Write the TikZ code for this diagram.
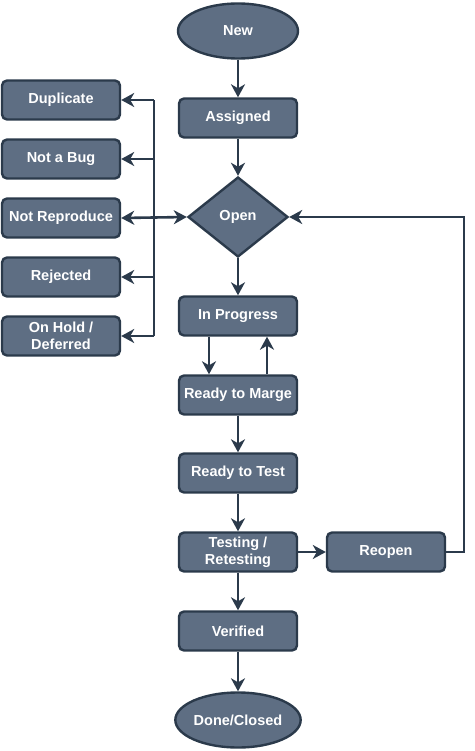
\documentclass[tikz,border=0pt]{standalone}
\usepackage{fontspec}
\setmainfont{Liberation Sans}
\usetikzlibrary{shapes.geometric,arrows.meta}
\definecolor{boxfill}{HTML}{5E6E83}
\definecolor{boxline}{HTML}{2B3A4B}
\tikzset{
  tip/.tip={Stealth[length=13pt,width=14pt,inset=4pt]},
  base/.style={draw=boxline, fill=boxfill, line width=2.4pt, text=white, font=\bfseries\fontsize{14.5}{17}\selectfont, align=center, inner sep=0pt},
  stepbox/.style={base, rectangle, rounded corners=5pt, minimum width=118pt, minimum height=39pt},
  term/.style={base, ellipse, minimum width=120pt, minimum height=55pt},
  decide/.style={base, diamond, minimum width=100pt, minimum height=80pt},
  conn/.style={draw=boxline, line width=2.6pt, -tip},
  plain/.style={draw=boxline, line width=2.6pt},
}
\begin{document}
\begin{tikzpicture}[x=1pt,y=-1pt]
\useasboundingbox (0,0) rectangle (474,751);
\node[term] (new) at (238,31) {New};
\node[stepbox] (assigned) at (238,118) {Assigned};
\node[decide] (open) at (238,217) {Open};
\node[stepbox] (prog) at (238,316) {In Progress};
\node[stepbox] (marge) at (238,395) {Ready to Marge};
\node[stepbox] (rtest) at (238,473) {Ready to Test};
\node[stepbox] (testing) at (238,552) {Testing /\\Retesting};
\node[stepbox] (reopen) at (386,552) {Reopen};
\node[stepbox] (verified) at (238,631) {Verified};
\node[term] (done) at (238,720) {Done/Closed};
\node[stepbox] (dup) at (61,100) {Duplicate};
\node[stepbox] (nab) at (61,159) {Not a Bug};
\node[stepbox] (nrep) at (61,218) {Not Reproduce};
\node[stepbox] (rej) at (61,277) {Rejected};
\node[stepbox] (hold) at (61,336) {On Hold /\\Deferred};
\coordinate (bus) at (154,218);
\coordinate (rt) at (464,552);

\draw[conn] (new) -- (assigned);
\draw[conn] (assigned) -- (open);
\draw[conn] (open) -- (prog);
\draw[conn] ([xshift=-29pt]prog.south) -- ([xshift=-29pt]marge.north);
\draw[conn] ([xshift=29pt]marge.north) -- ([xshift=29pt]prog.south);
\draw[conn] (marge) -- (rtest);
\draw[conn] (rtest) -- (testing);
\draw[conn] (testing) -- (reopen);
\draw[conn] (testing) -- (verified);
\draw[conn] (verified) -- (done);
\draw[conn] (reopen.east) -- (rt) |- (open.east);
\draw[plain] (dup.east -| bus) -- (hold.east -| bus);
\draw[conn] (dup.east -| bus) -- (dup.east);
\draw[conn] (nab.east -| bus) -- (nab.east);
\draw[conn] (rej.east -| bus) -- (rej.east);
\draw[conn] (hold.east -| bus) -- (hold.east);
\draw[conn, tip-tip] (nrep.east) -- (open.west);
\end{tikzpicture}
\end{document}
